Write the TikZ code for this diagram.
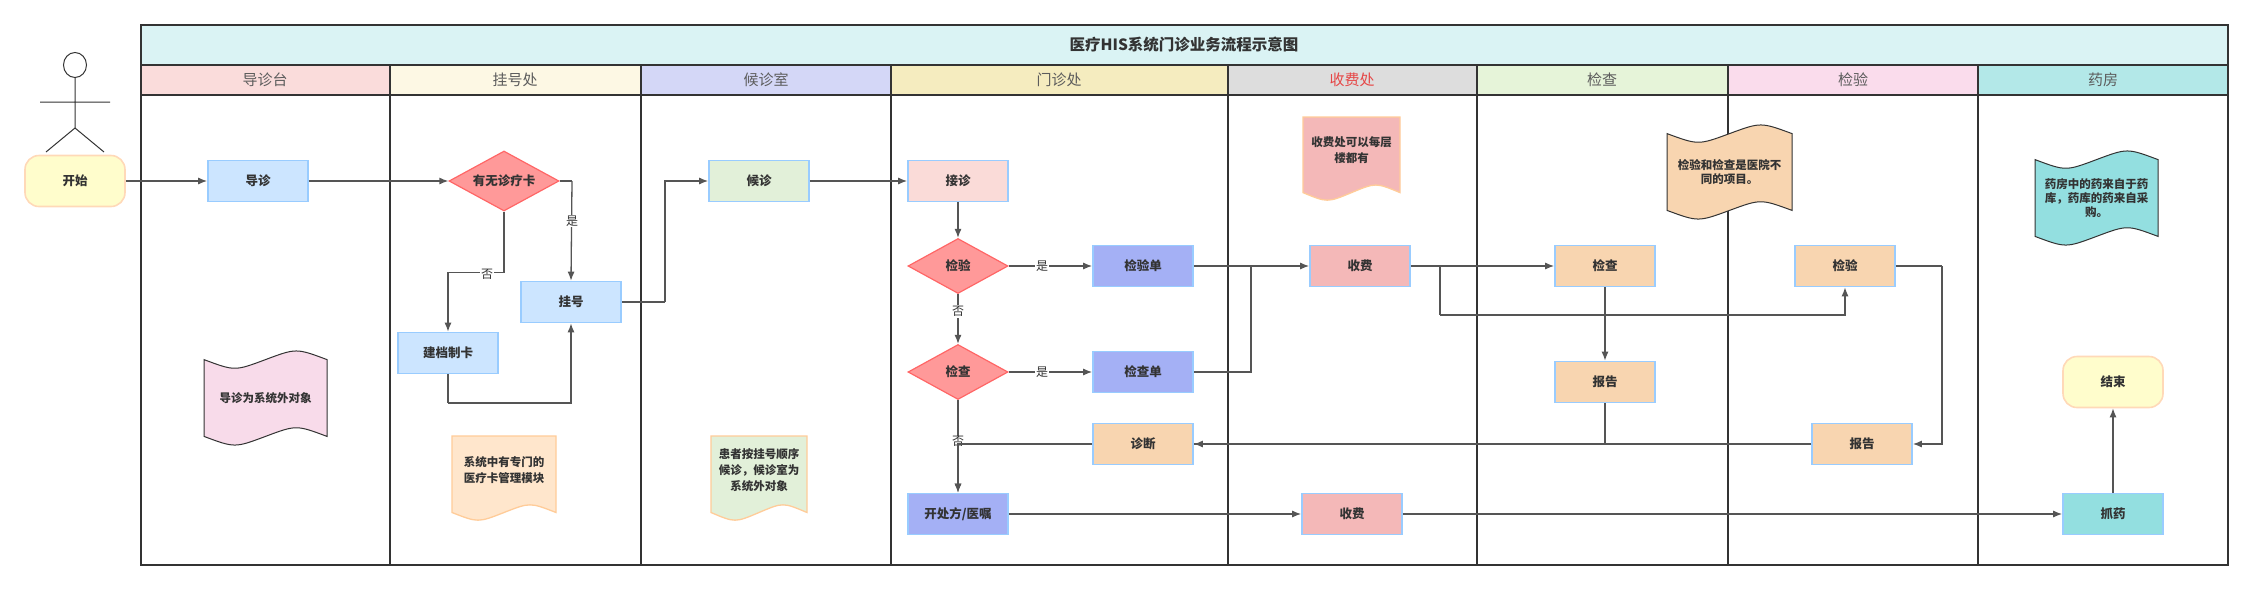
\documentclass[tikz,border=0pt]{standalone}
\usepackage{fontspec}
\setmainfont{Noto Sans CJK SC}
\usetikzlibrary{arrows.meta,shapes.geometric,calc}
\definecolor{ln}{HTML}{555555}
\definecolor{txt}{HTML}{333333}
\definecolor{bblue}{HTML}{99CCFF}
\definecolor{cblue}{HTML}{CCE5FF}
\definecolor{cyel}{HTML}{FFFDCC}
\definecolor{cpeach}{HTML}{FFD9B8}
\definecolor{cred}{HTML}{FF9999}
\definecolor{bred}{HTML}{FF6666}
\definecolor{cgreen}{HTML}{E2F0D9}
\definecolor{cpink}{HTML}{FADBD8}
\definecolor{cperi}{HTML}{A4B0F5}
\definecolor{corange}{HTML}{F8D5B0}
\definecolor{crose}{HTML}{F4B8B8}
\definecolor{cteal}{HTML}{93DFE0}
\definecolor{cnote}{HTML}{F8DBEA}
\definecolor{cdoc}{HTML}{FFE6CC}
\definecolor{bdoc}{HTML}{FFCC99}
\definecolor{ctitle}{HTML}{DAF3F4}
\definecolor{hred}{HTML}{E64646}
\begin{document}
\begin{tikzpicture}[x=1pt,y=-1pt,
  every node/.style={text=txt,font=\fontsize{12.5}{14}\selectfont\bfseries},
  box/.style={draw=bblue,line width=1.6pt,minimum width=100pt,minimum height=41pt,inner sep=0pt},
  term/.style={draw=cpeach,line width=1.6pt,fill=cyel,rounded corners=14pt,minimum width=100pt,minimum height=51pt},
  dia/.style={diamond,aspect=1.75,draw=bred,fill=cred,line width=1.2pt,minimum width=110pt,minimum height=60pt,inner sep=0pt},
  arr/.style={draw=ln,line width=1.3pt,-{Latex[length=9pt,width=7pt]}},
  ln/.style={draw=ln,line width=1.3pt},
  lbl/.style={fill=white,inner sep=1pt,font=\fontsize{12}{14}\selectfont},
  lane/.style={draw=txt,line width=1.3pt},
  hd/.style={draw=txt,line width=1.3pt},
  hdtxt/.style={font=\fontsize{15}{17}\selectfont,text=txt!80}
]
\useasboundingbox (0,0) rectangle (2253,590);
% frame and header
\fill[white] (141,25) rectangle (2228,565);
\fill[ctitle] (141,25) rectangle (2228,65);
\node[font=\fontsize{15.5}{18}\selectfont\bfseries] (title) at (1184,45) {医疗HIS系统门诊业务流程示意图};
\foreach \a/\b/\c in {141/390/FADCDB,390/641/FDF8E4,641/891/D4D7F7,891/1228/F5ECBF,1228/1477/DDDDDD,1477/1728/E6F4D9,1728/1978/FADCEC,1978/2228/B3E8E8}{
  \definecolor{hc}{HTML}{\c}
  \fill[hc] (\a,65) rectangle (\b,95);
  \draw[lane] (\a,65) -- (\a,565);
}
\node[hdtxt] (h1) at (265,80) {导诊台};
\node[hdtxt] (h2) at (515,80) {挂号处};
\node[hdtxt] (h3) at (766,80) {候诊室};
\node[hdtxt] (h4) at (1059,80) {门诊处};
\node[hdtxt,text=hred] (h5) at (1352,80) {收费处};
\node[hdtxt] (h6) at (1602,80) {检查};
\node[hdtxt] (h7) at (1853,80) {检验};
\node[hdtxt] (h8) at (2103,80) {药房};
\draw[hd] (141,65) -- (2228,65);
\draw[hd] (141,95) -- (2228,95);
\draw[line width=1.6pt,draw=txt] (141,25) rectangle (2228,565);
% actor
\draw[draw=txt,line width=1pt] (75,65) ellipse (11.5 and 12.5);
\draw[draw=txt,line width=1pt] (75,77.5) -- (75,128) (40,102) -- (110,102) (46,152) -- (75,128) -- (104,152);
% notes
\newcommand\tapenote[7]{%
  \draw[fill=#6,draw=txt,line width=1pt] (#2,{#3+0.1*(#5-#3)}) .. controls ({#2+0.25*(#4-#2)},{#3+0.22*(#5-#3)}) .. ({(#2+#4)/2},{#3+0.1*(#5-#3)}) .. controls ({#2+0.75*(#4-#2)},{#3-0.02*(#5-#3)}) .. (#4,{#3+0.1*(#5-#3)}) -- (#4,{#5-0.1*(#5-#3)}) .. controls ({#2+0.75*(#4-#2)},{#5-0.22*(#5-#3)}) .. ({(#2+#4)/2},{#5-0.1*(#5-#3)}) .. controls ({#2+0.25*(#4-#2)},{#5+0.02*(#5-#3)}) .. (#2,{#5-0.1*(#5-#3)}) -- cycle;
  \node[align=center,font=\fontsize{11.5}{14}\selectfont\bfseries] (#1) at ({(#2+#4)/2},{(#3+#5)/2}) {#7};}
\newcommand\docnote[8]{%
  \draw[fill=#6,draw=#7,line width=1.3pt] (#2,#3) -- (#4,#3) -- (#4,{#5-0.1*(#5-#3)}) .. controls ({#2+0.75*(#4-#2)},{#5-0.22*(#5-#3)}) .. ({(#2+#4)/2},{#5-0.1*(#5-#3)}) .. controls ({#2+0.25*(#4-#2)},{#5+0.02*(#5-#3)}) .. (#2,{#5-0.1*(#5-#3)}) -- cycle;
  \node[align=center,font=\fontsize{11.5}{16}\selectfont\bfseries] (#1) at ({(#2+#4)/2},{#3+0.4*(#5-#3)}) {#8};}
\tapenote{n1}{204}{350}{327}{446}{cnote}{导诊为系统外对象}
\docnote{n2}{452}{436}{556}{521}{cdoc}{bdoc}{系统中有专门的\\医疗卡管理模块}
\docnote{n3}{711}{436}{807}{521}{cgreen}{bdoc}{患者按挂号顺序\\候诊，候诊室为\\系统外对象}
\docnote{n4}{1303}{117}{1400}{201}{crose}{bdoc}{收费处可以每层\\楼都有}
\tapenote{n5}{1667}{124}{1792}{220}{corange}{检验和检查是医院不\\同的项目。}
\tapenote{n6}{2035}{150}{2158}{246}{cteal}{药房中的药来自于药\\库，药库的药来自采\\购。}
% nodes
\node[term] (start) at (75,181) {开始};
\node[box,fill=cblue] (dz) at (258,181) {导诊};
\node[dia] (card) at (504,181) {有无诊疗卡};
\node[box,fill=cblue] (gh) at (571,302) {挂号};
\node[box,fill=cblue] (jd) at (448,353) {建档制卡};
\node[box,fill=cgreen] (hz) at (759,181) {候诊};
\node[box,fill=cpink] (jz) at (958,181) {接诊};
\node[dia,minimum width=100pt,minimum height=55pt] (jy1) at (958,266) {检验};
\node[box,fill=cperi] (jyd) at (1143,266) {检验单};
\node[dia,minimum width=100pt,minimum height=55pt] (jc1) at (958,372) {检查};
\node[box,fill=cperi] (jcd) at (1143,372) {检查单};
\node[box,fill=corange] (zd) at (1143,444) {诊断};
\node[box,fill=cperi] (kc) at (958,514) {开处方/医嘱};
\node[box,fill=crose] (sf1) at (1360,266) {收费};
\node[box,fill=crose] (sf2) at (1352,514) {收费};
\node[box,fill=corange] (jc) at (1605,266) {检查};
\node[box,fill=corange] (bg1) at (1605,382) {报告};
\node[box,fill=corange] (jy) at (1845,266) {检验};
\node[box,fill=corange] (bg2) at (1862,444) {报告};
\node[term] (end) at (2113,382) {结束};
\node[box,fill=cteal] (zy) at (2113,514) {抓药};
\coordinate (c1) at (504,272.5);
\coordinate (c2) at (572,181);
\coordinate (c3) at (448,403);
\coordinate (c4) at (665,302);
\coordinate (c5) at (1251,266);
\coordinate (c6) at (1440,266);
\coordinate (c7) at (1440,315);
\coordinate (c8) at (1942,266);
% edges
\draw[arr] (start) -- (dz);
\draw[arr] (dz) -- (card);
\draw[ln] (card.south) -- (c1);
\draw[arr] (c1) -| (jd.north);
\node[lbl] (no1) at (487,274) {否};
\draw[ln] (card.east) -- (c2);
\draw[arr] (c2) -- (gh.north);
\node[lbl] (yes1) at (572,221) {是};
\draw[ln] (jd.south) -- (c3);
\draw[arr] (c3) -| (gh.south);
\draw[ln] (gh.east) -- (c4);
\draw[arr] (c4) |- (hz.west);
\draw[arr] (hz) -- (jz);
\draw[arr] (jz) -- (jy1);
\draw[arr] (jy1) -- node[lbl,pos=0.35] (no2) {否} (jc1);
\draw[arr] (jy1) -- node[lbl,pos=0.4] (yes2) {是} (jyd);
\draw[arr] (jc1) -- node[lbl,pos=0.4] (yes3) {是} (jcd);
\draw[arr] (jc1) -- node[lbl,pos=0.45] (no3) {否} (kc);
\draw[arr] (zd.west) -| (kc.north);
\draw[arr] (jyd) -- (sf1);
\draw[ln] (jcd.east) -| (c5);
\draw[arr] (sf1) -- (jc);
\draw[ln] (c6) -- (c7);
\draw[arr] (c7) -| (jy.south);
\draw[arr] (jc) -- (bg1);
\draw[arr] (bg1.south) |- (zd.east);
\draw[ln] (bg2.west) -- (zd.east);
\draw[ln] (jy.east) -- (c8);
\draw[arr] (c8) |- (bg2.east);
\draw[arr] (kc) -- (sf2);
\draw[arr] (sf2) -- (zy);
\draw[arr] (zy) -- (end);
\end{tikzpicture}
\end{document}
